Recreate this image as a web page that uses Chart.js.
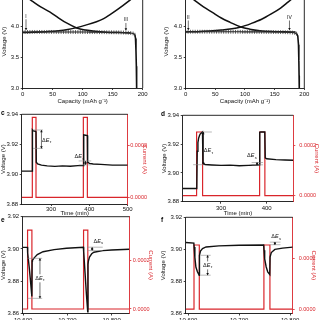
<!DOCTYPE html>
<html>
<head>
<meta charset="utf-8">
<script src="https://cdn.jsdelivr.net/npm/chart.js@4.4.0/dist/chart.umd.min.js"></script>
<style>
  html, body { margin: 0; padding: 0; background: #fff; width: 320px; height: 320px; overflow: hidden; }
  body { position: relative; font-family: "Liberation Sans", Arial, sans-serif; }
  canvas { position: absolute; }
  .tag { position: absolute; font-size: 6.5px; font-weight: bold; color: #000; line-height: 1; }
</style>
</head>
<body>
<canvas id="ca" width="159" height="115" style="left:1px;top:-10px"></canvas>
<canvas id="cb" width="157" height="115" style="left:163px;top:-10px"></canvas>
<canvas id="cc" width="148" height="109" style="left:0px;top:108px"></canvas>
<canvas id="cd" width="159" height="109" style="left:161px;top:108px"></canvas>
<canvas id="ce" width="154" height="125" style="left:0px;top:210px"></canvas>
<canvas id="cf" width="157" height="125" style="left:160px;top:210px"></canvas>
<div class="tag" style="left:1px;top:110px">c</div>
<div class="tag" style="left:161px;top:111px">d</div>
<div class="tag" style="left:1px;top:217px">e</div>
<div class="tag" style="left:161px;top:217px">f</div>
<script>
const FONT = '"Liberation Sans", Arial, sans-serif';
const RED = "#d9252b";
const INK = "#111";

// ---- panels a / b : capacity (mAh/g) vs voltage (V)
const capTicks = [0, 50, 100, 150, 200];
const voltTicksAB = [3.0, 3.5, 4.0];

const capA_gitt = [0, 4, 8, 12, 16, 20, 24, 28, 32, 36, 40, 44, 48, 52, 56, 60, 64, 68, 72, 76, 80, 84, 88, 92,
  96, 100, 104, 108, 112, 116, 120, 124, 128, 132, 136, 140, 144, 148, 152, 156, 160, 164, 168, 172, 176, 180, 184, 187];
const voltA_gitt = [3.905, 3.905, 3.905, 3.905, 3.906, 3.906, 3.906, 3.906, 3.906, 3.906, 3.906, 3.906, 3.906, 3.906,
  3.905, 3.905, 3.905, 3.905, 3.905, 3.905, 3.905, 3.904, 3.904, 3.904, 3.904, 3.903, 3.903, 3.903, 3.902, 3.902,
  3.902, 3.902, 3.901, 3.901, 3.901, 3.900, 3.900, 3.900, 3.899, 3.899, 3.898, 3.897, 3.896, 3.894, 3.892, 3.888, 3.880, 3.860];
const capA_tail = [187, 188, 188.8, 189.4, 189.8, 190];
const voltA_tail = [3.86, 3.80, 3.60, 3.35, 3.10, 3.0];
const capA_down = [8, 17.8, 30, 45, 60, 73, 90, 105, 120, 140, 160, 180];
const voltA_down = [4.46, 4.39, 4.31, 4.23, 4.13, 4.05, 3.97, 3.935, 3.915, 3.90, 3.895, 3.89];
const capA_up = [0, 20, 40, 60, 75, 90, 105, 123, 135, 145, 160, 175, 185];
const voltA_up = [3.895, 3.90, 3.91, 3.925, 3.945, 3.975, 4.015, 4.07, 4.12, 4.18, 4.28, 4.39, 4.47];

const capB_gitt = [0, 4, 8, 12, 16, 20, 24, 28, 32, 36, 40, 44, 48, 52, 56, 60, 64, 68, 72, 76, 80, 84, 88, 92,
  96, 100, 104, 108, 112, 116, 120, 124, 128, 132, 136, 140, 144, 148, 152, 156, 160, 164, 168, 172, 176, 180, 184, 187];
const voltB_gitt = [3.908, 3.908, 3.909, 3.909, 3.909, 3.909, 3.909, 3.909, 3.909, 3.909, 3.909, 3.909, 3.909, 3.909,
  3.909, 3.909, 3.908, 3.908, 3.908, 3.908, 3.908, 3.908, 3.908, 3.908, 3.907, 3.907, 3.907, 3.907, 3.907, 3.906,
  3.906, 3.906, 3.906, 3.905, 3.905, 3.905, 3.904, 3.904, 3.904, 3.903, 3.903, 3.902, 3.901, 3.900, 3.898, 3.895, 3.889, 3.878];
const capB_tail = [187, 189, 190.2, 190.8, 191.2, 191.5];
const voltB_tail = [3.878, 3.84, 3.70, 3.45, 3.20, 3.0];
const capB_down = [8, 18.5, 30, 45, 60, 75, 93, 108, 125, 145, 165, 185];
const voltB_down = [4.47, 4.39, 4.31, 4.22, 4.13, 4.06, 3.985, 3.95, 3.925, 3.912, 3.907, 3.903];
const capB_up = [0, 20, 40, 60, 78, 93, 110, 128, 145, 160, 173, 182];
const voltB_up = [3.905, 3.91, 3.92, 3.935, 3.955, 3.985, 4.04, 4.11, 4.20, 4.29, 4.39, 4.46];

// ---- panels c / d : time (min) vs voltage (V) and current (A)
const timeTicksC = [300, 400, 500];
const timeTicksD = [300, 400];
const voltTicksCD = [3.88, 3.90, 3.92, 3.94];
const currTicks = [0, 0.0002];

const timeC = [223.5, 251, 251.5, 253, 256, 259, 260.8, 261.5, 265, 275, 290, 310, 330, 350, 370, 384, 384.6, 386,
  390, 394.8, 395.5, 400, 410, 430, 460, 500];
const voltC = [3.902, 3.902, 3.9295, 3.929, 3.9288, 3.9287, 3.9285, 3.908, 3.9068, 3.906, 3.9055, 3.9052, 3.9055,
  3.9053, 3.9057, 3.9058, 3.926, 3.9262, 3.926, 3.9258, 3.908, 3.9072, 3.9068, 3.9065, 3.906, 3.906];
const timeC_I = [223.5, 251.2, 251.2, 260.8, 260.8, 384.3, 384.3, 394.8, 394.8, 500];
const currC = [0, 0, 0.00031, 0.00031, 0, 0, 0.00031, 0.00031, 0, 0];

const timeD = [216.2, 247, 248, 249.5, 251, 253, 255, 258, 259.5, 260.5, 265, 280, 300, 320, 340, 360, 380, 384,
  384.8, 387, 392, 395.8, 396.8, 400, 420, 440, 458.2];
const voltD = [3.8892, 3.8892, 3.915, 3.921, 3.924, 3.926, 3.9272, 3.928, 3.9284, 3.907, 3.9058, 3.9055, 3.9052,
  3.9054, 3.905, 3.9052, 3.9055, 3.9056, 3.9282, 3.9284, 3.9285, 3.9284, 3.9105, 3.9098, 3.9092, 3.909, 3.9088];
const timeD_I = [216.2, 246.6, 246.6, 259.7, 259.7, 384.5, 384.5, 396, 396, 458.2];
const currD = [0, 0, 0.000256, 0.000256, 0, 0, 0.000256, 0.000256, 0, 0];

// ---- panels e / f
const timeTicksEF = [10600, 10700, 10800];
const voltTicksEF = [3.86, 3.88, 3.90, 3.92];

const timeE = [10599, 10609.8, 10610.2, 10614, 10617, 10619.7, 10620.3, 10621, 10625, 10632, 10645, 10670, 10698,
  10736.3, 10736.8, 10740, 10743, 10746, 10746.6, 10747.5, 10750, 10755, 10760, 10780, 10800, 10840];
const voltE = [3.901, 3.901, 3.8975, 3.888, 3.879, 3.8705, 3.8925, 3.893, 3.8945, 3.8965, 3.8983, 3.8996, 3.9004,
  3.901, 3.8985, 3.885, 3.872, 3.861, 3.8905, 3.8925, 3.895, 3.897, 3.898, 3.899, 3.8994, 3.8998];
const timeE_I = [10599, 10610, 10610, 10619.8, 10619.8, 10736.6, 10736.6, 10746.2, 10746.2, 10840];
const currE = [0, 0, 0.000322, 0.000322, 0, 0, 0.000322, 0.000322, 0, 0];

const timeF = [10595, 10611, 10611.5, 10613, 10615, 10618, 10621.5, 10622, 10624, 10628, 10635, 10660, 10700, 10748,
  10748.7, 10750, 10753, 10756, 10760, 10760.6, 10763, 10770, 10785, 10805];
const voltF = [3.9043, 3.9039, 3.9015, 3.895, 3.889, 3.886, 3.8839, 3.8963, 3.899, 3.9005, 3.9015, 3.9022, 3.9026,
  3.9027, 3.8995, 3.894, 3.889, 3.886, 3.8843, 3.8952, 3.898, 3.900, 3.9008, 3.9014];
const timeF_I = [10595, 10611.3, 10611.3, 10621.7, 10621.7, 10748.5, 10748.5, 10760.3, 10760.3, 10805];
const currF = [0, 0, 0.000252, 0.000252, 0, 0, 0.000252, 0.000252, 0, 0];

function pts(xs, ys) {
  return xs.map((x, i) => ({ x, y: ys[i] }));
}

function axis({ pos, min, max, ticks, size, title, color = INK, fmt = (v) => v, pad = 1, tl = 2, font = 6 }) {
  return {
    type: "linear",
    position: pos,
    min,
    max,
    afterBuildTicks: (s) => { s.ticks = ticks.map((v) => ({ value: v })); },
    afterFit: (s) => { if (pos === "bottom") s.height = size; else s.width = size; },
    ticks: { color, font: { size: font, family: FONT }, padding: pad, maxRotation: 0, autoSkip: false, callback: fmt },
    grid: { drawOnChartArea: false, drawTicks: true, tickLength: tl, color, lineWidth: 0.8 },
    border: { display: true, color, width: 0.9 },
    title: { display: !!title, text: title, color, font: { size: 6, family: FONT }, padding: 0 },
  };
}

function line(ctx, x1, y1, x2, y2) {
  ctx.beginPath();
  ctx.moveTo(x1, y1);
  ctx.lineTo(x2, y2);
  ctx.stroke();
}

function arrow(ctx, x, y1, y2) {
  line(ctx, x, y1, x, y2);
  const d = y2 > y1 ? -1 : 1;
  ctx.beginPath();
  ctx.moveTo(x, y2);
  ctx.lineTo(x - 1.3, y2 + d * 2.2);
  ctx.lineTo(x + 1.3, y2 + d * 2.2);
  ctx.closePath();
  ctx.fill();
}

function deltaLabel(ctx, x, y, sub, align, bg) {
  const big = "5.5px " + FONT;
  const ital = "italic 5.5px " + FONT;
  const small = "4px " + FONT;
  ctx.font = big;
  const w1 = ctx.measureText("\u0394").width;
  ctx.font = ital;
  const w2 = ctx.measureText("E").width;
  ctx.font = small;
  const w3 = ctx.measureText(sub).width;
  const w = w1 + w2 + w3 + 0.3;
  let left = x;
  if (align === "center") left = x - w / 2;
  if (align === "right") left = x - w;
  if (bg) {
    ctx.fillStyle = "#fff";
    ctx.fillRect(left - 0.5, y - 4, w + 1, 8);
  }
  ctx.fillStyle = INK;
  ctx.textBaseline = "middle";
  ctx.textAlign = "left";
  ctx.font = big;
  ctx.fillText("\u0394", left, y);
  ctx.font = ital;
  ctx.fillText("E", left + w1, y);
  ctx.font = small;
  ctx.fillText(sub, left + w1 + w2 + 0.3, y + 1.8);
}

// draws frame top (and right when there is no current axis) plus annotations
function notes(list, closeRight) {
  return {
    id: "notes",
    afterDatasetsDraw(chart) {
      const { ctx, chartArea: a } = chart;
      const sx = chart.scales.x, sy = chart.scales.y;
      const X = (v) => sx.getPixelForValue(v), Y = (v) => sy.getPixelForValue(v);
      ctx.save();
      ctx.strokeStyle = INK;
      ctx.lineWidth = 0.9;
      ctx.beginPath();
      ctx.moveTo(a.left, a.top);
      ctx.lineTo(a.right, a.top);
      if (closeRight) ctx.lineTo(a.right, a.bottom);
      ctx.stroke();
      for (const n of list) {
        ctx.strokeStyle = n.kind === "hline" ? "#8a8a8a" : INK;
        ctx.fillStyle = INK;
        ctx.lineWidth = 0.6;
        if (n.kind === "hline") line(ctx, X(n.x1), Y(n.y), X(n.x2), Y(n.y));
        if (n.kind === "arrow") arrow(ctx, X(n.x), Y(n.y1), Y(n.y2));
        if (n.kind === "span") {
          const m = (Y(n.y1) + Y(n.y2)) / 2;
          arrow(ctx, X(n.x), m, Y(n.y1));
          arrow(ctx, X(n.x), m, Y(n.y2));
        }
        if (n.kind === "delta") deltaLabel(ctx, X(n.x), Y(n.y), n.sub, n.align || "left", n.bg);
        if (n.kind === "text") {
          ctx.font = "5px " + FONT;
          ctx.textAlign = "center";
          ctx.textBaseline = "middle";
          ctx.fillText(n.text, X(n.x), Y(n.y));
        }
      }
      ctx.restore();
    },
  };
}

function capacityPanel(id, p) {
  return new Chart(document.getElementById(id), {
    type: "scatter",
    data: {
      datasets: [
        { data: pts(p.capGitt, p.voltGitt), showLine: true, borderColor: "#222", borderWidth: 1.1,
          pointStyle: "line", rotation: 90, pointRadius: 1.9, pointBorderColor: "#333", pointBorderWidth: 0.8 },
        { data: pts(p.capTail, p.voltTail), showLine: true, borderColor: INK, borderWidth: 1.6, pointRadius: 0 },
        { data: pts(p.capDown, p.voltDown), showLine: true, borderColor: INK, borderWidth: 1.5, pointRadius: 0,
          cubicInterpolationMode: "monotone" },
        { data: pts(p.capUp, p.voltUp), showLine: true, borderColor: INK, borderWidth: 1.5, pointRadius: 0,
          cubicInterpolationMode: "monotone" },
      ],
    },
    options: {
      responsive: false,
      animation: false,
      events: [],
      layout: { padding: { top: 3, right: p.padRight, left: 0, bottom: 0 } },
      plugins: { legend: { display: false }, tooltip: { enabled: false } },
      scales: {
        x: axis({ pos: "bottom", min: 0, max: 200, ticks: capTicks, size: 17, title: "Capacity (mAh g\u207B\u00B9)", pad: 1 }),
        y: axis({ pos: "left", min: 3.0, max: 4.5, ticks: voltTicksAB, size: p.yWidth, title: "Voltage (V)",
          fmt: (v) => v.toFixed(1), pad: 1.5 }),
      },
    },
    plugins: [notes(p.notes, true)],
  });
}

function pulsePanel(id, p) {
  return new Chart(document.getElementById(id), {
    type: "scatter",
    data: {
      datasets: [
        { data: pts(p.time, p.volt), showLine: true, borderColor: INK, borderWidth: 1.4, pointRadius: 0, yAxisID: "y" },
        { data: pts(p.timeI, p.curr), showLine: true, borderColor: RED, borderWidth: 1.2, pointRadius: 0, yAxisID: "y2" },
      ],
    },
    options: {
      responsive: false,
      animation: false,
      events: [],
      layout: { padding: { top: p.padTop, right: 0, left: 0, bottom: 0 } },
      plugins: { legend: { display: false }, tooltip: { enabled: false } },
      scales: {
        x: axis({ pos: "bottom", min: p.xMin, max: p.xMax, ticks: p.xTicks, size: p.xHeight, title: "Time (min)",
          fmt: (v) => v.toLocaleString("en-US"), pad: p.xPad }),
        y: axis({ pos: "left", min: p.yMin, max: p.yMax, ticks: p.yTicks, size: p.yWidth, title: "Voltage (V)",
          fmt: (v) => v.toFixed(2), pad: 1.5 }),
        y2: axis({ pos: "right", min: p.iMin, max: p.iMax, ticks: currTicks, size: p.rWidth, title: "Current (A)",
          color: RED, fmt: (v) => v.toFixed(4), pad: p.rPad, font: 5.5 }),
      },
    },
    plugins: [notes(p.notes, false)],
  });
}

capacityPanel("ca", {
  capGitt: capA_gitt, voltGitt: voltA_gitt, capTail: capA_tail, voltTail: voltA_tail,
  capDown: capA_down, voltDown: voltA_down, capUp: capA_up, voltUp: voltA_up,
  padRight: 17.3, yWidth: 21.7,
  notes: [
    { kind: "text", x: 5.5, y: 4.16, text: "I" },
    { kind: "arrow", x: 5.5, y1: 4.11, y2: 3.935 },
    { kind: "text", x: 172, y: 4.1, text: "III" },
    { kind: "arrow", x: 172, y1: 4.05, y2: 3.93 },
  ],
});

capacityPanel("cb", {
  capGitt: capB_gitt, voltGitt: voltB_gitt, capTail: capB_tail, voltTail: voltB_tail,
  capDown: capB_down, voltDown: voltB_down, capUp: capB_up, voltUp: voltB_up,
  padRight: 15.7, yWidth: 22.7,
  notes: [
    { kind: "text", x: 4.4, y: 4.14, text: "II" },
    { kind: "arrow", x: 4.4, y1: 4.09, y2: 3.935 },
    { kind: "text", x: 175, y: 4.14, text: "IV" },
    { kind: "arrow", x: 175, y1: 4.09, y2: 3.935 },
  ],
});

pulsePanel("cc", {
  time: timeC, volt: voltC, timeI: timeC_I, curr: currC,
  xMin: 223.5, xMax: 500, xTicks: timeTicksC, yMin: 3.88, yMax: 3.94, yTicks: voltTicksCD,
  iMin: -0.000026, iMax: 0.000322,
  padTop: 6.3, yWidth: 21.7, rWidth: 20.3, xHeight: 13, xPad: 0, rPad: 0.5,
  notes: [
    { kind: "hline", x1: 253, x2: 279, y: 3.9295 },
    { kind: "hline", x1: 253, x2: 279, y: 3.9172 },
    { kind: "span", x: 275, y1: 3.9295, y2: 3.9172 },
    { kind: "delta", x: 276.5, y: 3.9228, sub: "\u03C4" },
    { kind: "hline", x1: 372, x2: 405, y: 3.9088 },
    { kind: "hline", x1: 372, x2: 405, y: 3.9062 },
    { kind: "span", x: 390, y1: 3.9088, y2: 3.9062 },
    { kind: "delta", x: 386.5, y: 3.9115, sub: "s", align: "right" },
  ],
});

pulsePanel("cd", {
  time: timeD, volt: voltD, timeI: timeD_I, curr: currD,
  xMin: 216.2, xMax: 458.2, xTicks: timeTicksD, yMin: 3.88, yMax: 3.94, yTicks: voltTicksCD,
  iMin: -0.000024, iMax: 0.000323,
  padTop: 7, yWidth: 21.7, rWidth: 26.7, xHeight: 15.3, xPad: 1, rPad: 4,
  notes: [
    { kind: "hline", x1: 258, x2: 280, y: 3.9284 },
    { kind: "hline", x1: 239, x2: 262, y: 3.9057 },
    { kind: "span", x: 261.3, y1: 3.9284, y2: 3.9057 },
    { kind: "delta", x: 262.5, y: 3.9154, sub: "\u03C4" },
    { kind: "hline", x1: 367, x2: 392, y: 3.9072 },
    { kind: "hline", x1: 367, x2: 392, y: 3.9056 },
    { kind: "span", x: 379, y1: 3.9072, y2: 3.9056 },
    { kind: "delta", x: 378, y: 3.912, sub: "s", align: "right" },
  ],
});

pulsePanel("ce", {
  time: timeE, volt: voltE, timeI: timeE_I, curr: currE,
  xMin: 10599, xMax: 10840, xTicks: timeTicksEF, yMin: 3.86, yMax: 3.92, yTicks: voltTicksEF,
  iMin: -0.0000184, iMax: 0.000377,
  padTop: 6.7, yWidth: 22.7, rWidth: 24.7, xHeight: 21.5, xPad: 1, rPad: 1.5,
  notes: [
    { kind: "hline", x1: 10610, x2: 10643, y: 3.8942 },
    { kind: "hline", x1: 10610, x2: 10643, y: 3.8694 },
    { kind: "span", x: 10638, y1: 3.8942, y2: 3.8694 },
    { kind: "delta", x: 10638, y: 3.8818, sub: "\u03C4", align: "center", bg: true },
    { kind: "hline", x1: 10745, x2: 10780, y: 3.9011 },
    { kind: "hline", x1: 10745, x2: 10780, y: 3.8990 },
    { kind: "span", x: 10756, y1: 3.9011, y2: 3.899 },
    { kind: "delta", x: 10759, y: 3.9048, sub: "s" },
  ],
});

pulsePanel("cf", {
  time: timeF, volt: voltF, timeI: timeF_I, curr: currF,
  xMin: 10595, xMax: 10805, xTicks: timeTicksEF, yMin: 3.86, yMax: 3.92, yTicks: voltTicksEF,
  iMin: -0.0000175, iMax: 0.000361,
  padTop: 6.7, yWidth: 25.7, rWidth: 24.3, xHeight: 21.5, xPad: 1, rPad: 4,
  notes: [
    { kind: "hline", x1: 10624, x2: 10644, y: 3.8963 },
    { kind: "hline", x1: 10624, x2: 10644, y: 3.8839 },
    { kind: "span", x: 10638, y1: 3.8963, y2: 3.8839 },
    { kind: "delta", x: 10638, y: 3.890, sub: "\u03C4", align: "center", bg: true },
    { kind: "hline", x1: 10760, x2: 10781, y: 3.9045 },
    { kind: "hline", x1: 10760, x2: 10781, y: 3.9029 },
    { kind: "span", x: 10770, y1: 3.9045, y2: 3.9029 },
    { kind: "delta", x: 10763, y: 3.9078, sub: "s" },
  ],
});
</script>
</body>
</html>
